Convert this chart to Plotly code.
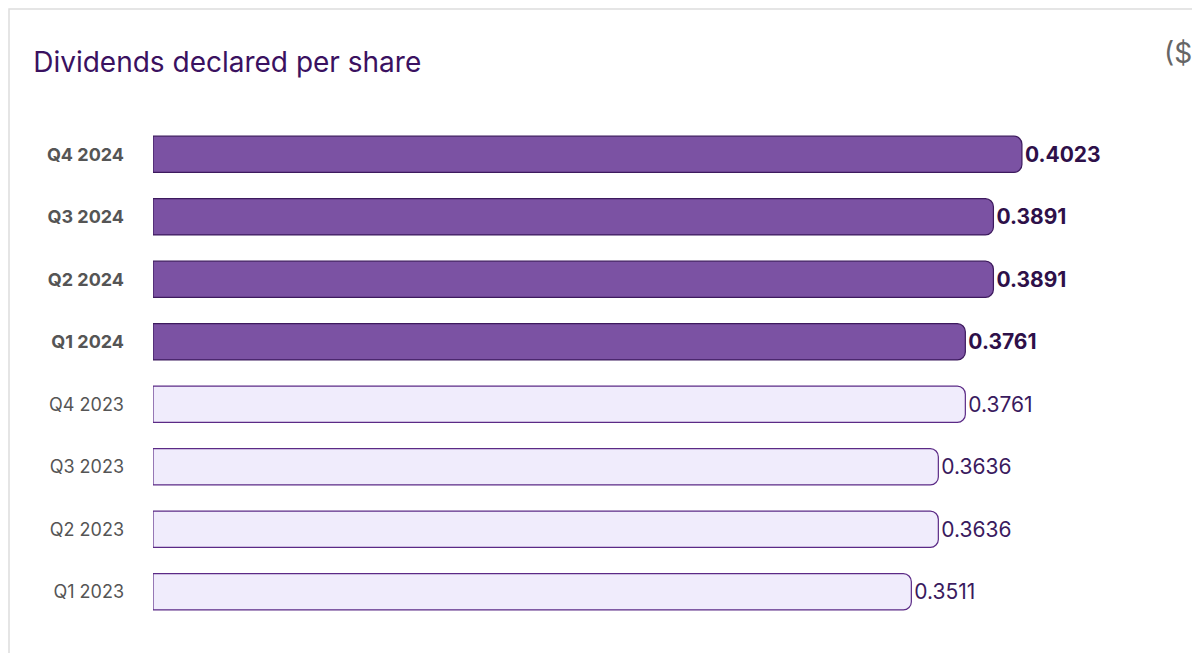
import plotly.graph_objects as go

categories = ["Q4 2024", "Q3 2024", "Q2 2024", "Q1 2024", "Q4 2023", "Q3 2023", "Q2 2023", "Q1 2023"]
values = [0.4023, 0.3891, 0.3891, 0.3761, 0.3761, 0.3636, 0.3636, 0.3511]
highlight = [True, True, True, True, False, False, False, False]

cats_h = [c for c, h in zip(categories, highlight) if h]
vals_h = [v for v, h in zip(values, highlight) if h]
cats_l = [c for c, h in zip(categories, highlight) if not h]
vals_l = [v for v, h in zip(values, highlight) if not h]

fig = go.Figure()
fig.add_trace(go.Bar(
    y=cats_h, x=vals_h, orientation="h",
    marker=dict(color="#7B52A3", line=dict(color="#3D1A5E", width=1.2), cornerradius=8),
    text=[f"<b>{v:.4f}</b>" for v in vals_h], textposition="outside",
    textfont=dict(family="Inter", size=21, color="#2E1049"), cliponaxis=False,
))
fig.add_trace(go.Bar(
    y=cats_l, x=vals_l, orientation="h",
    marker=dict(color="#F0ECFC", line=dict(color="#5B2A86", width=1.2), cornerradius=8),
    text=[f"{v:.4f}" for v in vals_l], textposition="outside",
    textfont=dict(family="Inter", size=21, color="#3A1A5E"), cliponaxis=False,
))

ticktext = [f"<b>{c}</b>" if h else c for c, h in zip(categories, highlight)]

fig.update_layout(
    width=1200, height=653, paper_bgcolor="white", plot_bgcolor="white",
    margin=dict(l=145, r=50, t=115, b=38),
    showlegend=False, bargap=0.42,
    font=dict(family="Inter"),
    xaxis=dict(range=[0, 0.4653], visible=False),
    yaxis=dict(categoryorder="array", categoryarray=categories[::-1],
               tickvals=categories, ticktext=ticktext,
               tickfont=dict(family="Inter", size=18, color="#555"),
               ticklabelstandoff=28, showgrid=False, zeroline=False, showline=False, ticks=""),
    title=dict(text="Dividends declared per share", x=0.021, xanchor="left", y=0.917, yanchor="middle",
               font=dict(family="Inter", size=28, color="#3A1160")),
    annotations=[dict(text="($)", xref="paper", yref="paper", x=1200/1005 - 0.004 - 145/1005, xanchor="right",
                      y=1.14, yanchor="middle", showarrow=False,
                      font=dict(family="Inter", size=28, color="#666"))],
    shapes=[dict(type="rect", xref="paper", yref="paper",
                 x0=-144/1005, x1=1 + 49/1005, y0=-37/500, y1=1 + 114/500,
                 line=dict(color="#DDDDDD", width=1.5), layer="below")],
)
fig.write_html("out.html")
